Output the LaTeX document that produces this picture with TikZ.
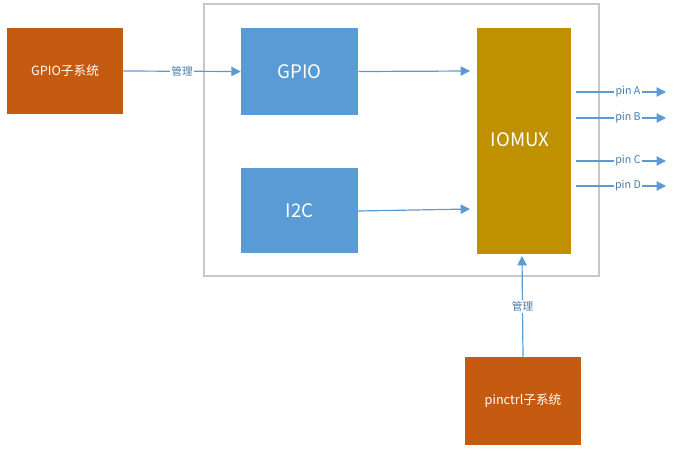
\documentclass[tikz,border=0pt]{standalone}
\usepackage{fontspec}
\setmainfont{Noto Sans CJK SC}
\usetikzlibrary{arrows.meta}
\definecolor{orng}{HTML}{C55A11}
\definecolor{blu}{HTML}{5B9BD5}
\definecolor{gld}{HTML}{BF9000}
\definecolor{arr}{HTML}{5B9BD5}
\begin{document}
\begin{tikzpicture}[x=0.75pt,y=-0.75pt,
  box/.style={draw=none,minimum width=#1,text=white,inner sep=0pt},
  sub/.style={fill=orng,font=\fontsize{9.5}{11}\selectfont},
  blk/.style={fill=blu,font=\fontsize{14}{16}\selectfont},
  con/.style={draw=arr,line width=0.9pt,-{Triangle[length=7pt,width=7pt]}},
  lab/.style={font=\fontsize{8}{9}\selectfont,text=arr!80!black,inner sep=1pt}]
\useasboundingbox (0,0) rectangle (679,455);
\draw[draw=black!22,line width=1.6pt] (204,4) rectangle (599,276);
\node[box=87pt,sub,minimum height=64.5pt] (gs) at (65,71) {GPIO子系统};
\node[box=87.75pt,blk,minimum height=65.25pt] (gpio) at (299.5,71.5) {GPIO};
\node[box=87.75pt,blk,minimum height=63.75pt] (i2c) at (299.5,210.5) {I2C};
\node[box=70.5pt,fill=gld,minimum height=169.5pt,anchor=north] (iomux) at (524,28) {};
\node[text=white,font=\fontsize{14}{16}\selectfont] at (520,140) {IOMUX};
\node[box=87pt,sub,minimum height=66pt] (pc) at (523,401) {pinctrl子系统};
\draw[con] (gs.east) -- node[lab,fill=white]{管理} (gpio.west);
\draw[con] (gpio.east) -- (470,71);
\draw[con] (358,211) -- (470,209);
\draw[con] (pc.north) -- node[lab,fill=white,pos=0.5]{管理} (522,256);
\foreach \y/\t in {92/A,118/B,161/C,186/D}{
  \coordinate (e\t) at (666,\y);
  \draw[con] (576,\y) -- (e\t);
  \node[lab,fill=white] at (628,\y) {pin \t};
}
\end{tikzpicture}
\end{document}
